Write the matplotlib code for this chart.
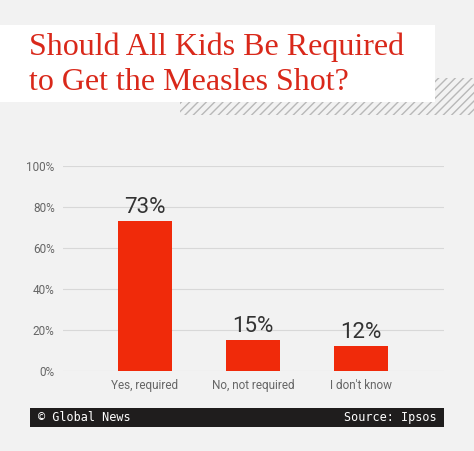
import matplotlib
matplotlib.use("Agg")
import matplotlib.pyplot as plt
from matplotlib.patches import Rectangle

categories = ["Yes, required", "No, not required", "I don't know"]
values = [73, 15, 12]
yticks = [0, 20, 40, 60, 80, 100]

W, H = 474, 451
fig = plt.figure(figsize=(W/100, H/100), dpi=100)
fig.patch.set_facecolor("#f2f2f2")

def fx(x): return x / W
def fy(y): return 1 - y / H

hatch_ax = fig.add_axes([fx(180), fy(115), fx(474-180), (115-78)/H])
hatch_ax.set_axis_off()
hatch_ax.add_patch(Rectangle((0, 0), 1, 1, transform=hatch_ax.transAxes, facecolor="#f2f2f2",
                             edgecolor="#b8b8b8", hatch="////", linewidth=0))
fig.patches.append(Rectangle((0, fy(102)), fx(435), (102-25)/H, transform=fig.transFigure,
                             facecolor="white", edgecolor="none", zorder=2))
fig.text(fx(29), fy(47), "Should All Kids Be Required", family="Liberation Serif", fontsize=23,
         color="#d9281a", va="center", zorder=3)
fig.text(fx(29), fy(82), "to Get the Measles Shot?", family="Liberation Serif", fontsize=23,
         color="#d9281a", va="center", zorder=3)

ax = fig.add_axes([fx(63), fy(371), fx(444-63), (371-166)/H])
ax.set_facecolor("#f2f2f2")
x = range(len(categories))
ax.bar(x, values, width=0.5, color="#f02a0a", zorder=3)
for i, v in zip(x, values):
    ax.text(i, v + 1.5, f"{v}%", ha="center", va="bottom", fontsize=16, family="Roboto", color="#333333")
ax.set_xlim(-0.76, 2.77)
ax.set_ylim(0, 100)
ax.set_yticks(yticks)
ax.set_yticklabels([f"{t}%" for t in yticks], family="Roboto", fontsize=8.5, color="#666666")
ax.set_xticks(list(x))
ax.set_xticklabels(categories, family="Roboto", fontsize=8.5, color="#666666")
ax.tick_params(length=0, pad=6)
ax.grid(axis="y", color="#d8d8d8", linewidth=0.8, zorder=0)
for s in ax.spines.values():
    s.set_visible(False)

fig.patches.append(Rectangle((fx(30), fy(427)), fx(444-30), 19/H, transform=fig.transFigure,
                             facecolor="#1f1d1d", edgecolor="none"))
fig.text(fx(38), fy(417.5), "© Global News", family="DejaVu Sans Mono", fontsize=8.5, color="white", va="center")
fig.text(fx(437), fy(417.5), "Source: Ipsos", family="DejaVu Sans Mono", fontsize=8.5, color="white",
         va="center", ha="right")

fig.savefig("out.png", dpi=100, facecolor=fig.get_facecolor())
